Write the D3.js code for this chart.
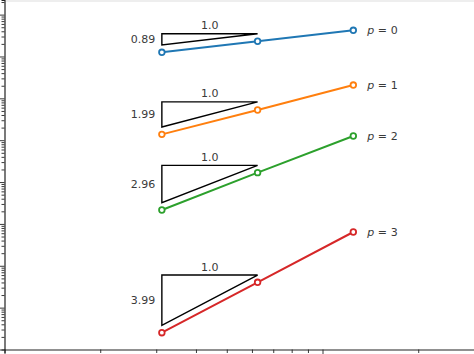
<!DOCTYPE html>
<html><head><meta charset="utf-8">
<script src="https://cdn.jsdelivr.net/npm/d3@7"></script>
<style>body{margin:0;background:#fff}svg{display:block}</style>
</head><body>
<script>
// ---- data ----
const xs = [3.125, 6.25, 12.5];
const errP0 = [1.26e-5, 2.31e-5, 4.22e-5];
const errP1 = [1.38e-7, 5.26e-7, 2.08e-6];
const errP2 = [2.15e-9, 1.68e-8, 1.26e-7];
const errP3 = [2.52e-12, 4.03e-11, 6.41e-10];
const slopes = [0.89, 1.99, 2.96, 3.99];
const seriesLabels = ["0", "1", "2", "3"];
const colors = ["#1f77b4", "#ff7f0e", "#2ca02c", "#d62728"];
const runLabel = "1.0";

const W = 474, H = 354;
const svg = d3.select("body").append("svg").attr("width", W).attr("height", H)
  .style("font-family", "'DejaVu Sans', sans-serif");

const decY = 41.86, decX = 318;
const y0px = 349.5, x0px = 4.5;
const FS = 11;
const x = d3.scaleLog().domain([1, 40]).range([x0px, x0px + decX * Math.log10(40)]);
const y = d3.scaleLog().domain([1e-12, Math.pow(10, -12 + y0px / decY)]).range([y0px, 0]);

// faint top band
svg.append("rect").attr("x", 6).attr("y", 0).attr("width", W).attr("height", 2).attr("fill", "#eeeeee");

// ticks
function logTicks(lo, hi) {
  const maj = [], min = [];
  for (let e = Math.floor(Math.log10(lo)); e <= Math.ceil(Math.log10(hi)); e++) {
    for (let k = 1; k <= 9; k++) {
      const v = k * Math.pow(10, e);
      if (v < lo * 0.999 || v > hi * 1.001) continue;
      (k === 1 ? maj : min).push(v);
    }
  }
  return [maj, min];
}
const [yMaj, yMin] = logTicks(...y.domain());
const [xMaj, xMin] = logTicks(...x.domain());

const gy = svg.append("g").attr("transform", `translate(${x0px},0)`);
gy.call(d3.axisLeft(y).tickValues(yMin).tickSize(3).tickFormat(""));
gy.append("g").call(d3.axisLeft(y).tickValues(yMaj).tickSize(5).tickFormat("")).select(".domain").remove();
const gx = svg.append("g").attr("transform", `translate(0,${y0px})`);
gx.call(d3.axisBottom(x).tickValues(xMin).tickSize(3.5).tickFormat(""));
gx.append("g").call(d3.axisBottom(x).tickValues(xMaj).tickSize(5).tickFormat("")).select(".domain").remove();
svg.selectAll(".domain").attr("stroke", "#222").attr("stroke-width", 1.2);
svg.selectAll(".tick line").attr("stroke", "#222").attr("stroke-width", 0.9);

const allSeries = [errP0, errP1, errP2, errP3];
const line = d3.line().x((d, i) => x(xs[i])).y(d => y(d));

allSeries.forEach((s, si) => {
  const g = svg.append("g");
  // slope triangle
  const base = s[0] * 1.5;
  const top = base * Math.pow(xs[1] / xs[0], slopes[si]);
  const tri = [[xs[0], top], [xs[1], top], [xs[0], base]];
  g.append("path")
    .attr("d", d3.line().x(d => x(d[0])).y(d => y(d[1]))(tri) + "Z")
    .attr("fill", "none").attr("stroke", "#000").attr("stroke-width", 1.4);
  g.append("text").attr("x", (x(xs[0]) + x(xs[1])) / 2).attr("y", y(top) - 4.5)
    .attr("text-anchor", "middle").attr("font-size", FS).attr("fill", "#3a3a3a").text(runLabel);
  g.append("text").attr("x", x(xs[0]) - 6.5).attr("y", (y(top) + y(base)) / 2 + 4)
    .attr("text-anchor", "end").attr("font-size", FS).attr("fill", "#3a3a3a").text(slopes[si].toFixed(2));
  // data line
  g.append("path").attr("d", line(s)).attr("fill", "none")
    .attr("stroke", colors[si]).attr("stroke-width", 2);
  g.selectAll("circle").data(s).join("circle")
    .attr("cx", (d, i) => x(xs[i])).attr("cy", d => y(d)).attr("r", 2.8)
    .attr("fill", "#fff").attr("stroke", colors[si]).attr("stroke-width", 1.8);
  // label (mathtext-like spacing)
  const ex = x(xs[2]), ey = y(s[2]) + 4;
  const t = g.append("text").attr("y", ey).attr("font-size", FS).attr("fill", "#3a3a3a");
  t.append("tspan").attr("x", ex + 14).attr("font-style", "italic").text("p");
  t.append("tspan").attr("x", ex + 24.5).text("=");
  t.append("tspan").attr("x", ex + 37.5).text(seriesLabels[si]);
});
</script>
</body></html>
